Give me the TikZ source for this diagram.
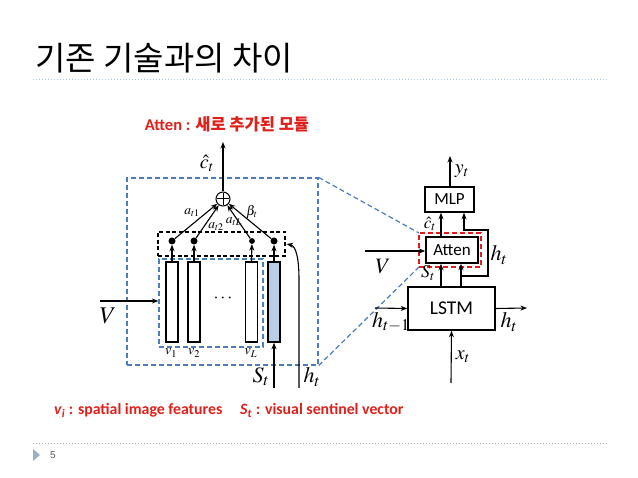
\documentclass[tikz,border=0pt]{standalone}
\usepackage{mathptmx}
\usepackage{fontspec}
\setmainfont{Liberation Serif}
\newfontfamily\krf{Noto Sans CJK KR}
\newfontfamily\carl{Carlito}
\newfontfamily\arialf{Liberation Sans}
\usetikzlibrary{arrows.meta,calc}
\definecolor{bluedash}{HTML}{4A7EBB}
\definecolor{redtxt}{HTML}{E0201B}
\definecolor{redbox}{HTML}{E31A1C}
\definecolor{barblue}{HTML}{B9CDE5}
\definecolor{titleline}{HTML}{A6CBDD}
\definecolor{footline}{HTML}{B4B4B4}
\definecolor{tri}{HTML}{9BB0C4}
\newcommand{\fs}[1]{\fontsize{#1}{#1}\selectfont}
\tikzset{
  arr/.style={-{Stealth[length=6.5pt,width=5pt]}, line width=1.1pt},
  box/.style={draw, line width=1.5pt, inner sep=0pt, font=\carl\fs{17}},
  bdash/.style={draw=bluedash, dash pattern=on 5pt off 3pt, line width=1.2pt},
  bar/.style={draw, line width=1.4pt, minimum width=12, minimum height=80, inner sep=0pt},
  dotn/.style={circle, fill, inner sep=0pt, minimum size=7},
  lbl/.style={inner sep=0pt},
}
\begin{document}
\begin{tikzpicture}[x=1pt,y=-1pt]
\useasboundingbox[fill=white] (0,0) rectangle (638,478);
% title
\node[lbl, anchor=base west] (title) at (35,71) {\krf\fs{33}기존 기술과의 차이};
\draw[titleline, line width=0.8pt, dash pattern=on 1pt off 2pt] (33,79) coordinate (tl1) -- (607,79) coordinate (tl2);
% footer
\draw[footline, line width=0.8pt, dash pattern=on 1pt off 2pt] (33,443) coordinate (fl1) -- (607,443) coordinate (fl2);
\fill[tri] (33,449) coordinate (t1) -- (33,461) coordinate (t2) -- (40,455) coordinate (t3) -- cycle;
\node[lbl, anchor=base west, text=black!65] (pnum) at (50,459) {\arialf\fs{10}5};
% red captions
\node[lbl, text=redtxt] (cap1) at (227,124) {\carl\bfseries\fs{16.5}Atten : {\krf\bfseries 새로 추가된 모듈}};
\node[lbl, anchor=base west, text=redtxt] (cap2) at (54,415) {\carl\bfseries\fs{15.8}\textit{v}\textsubscript{\textit{i}} : spatial image features};
\node[lbl, anchor=base west, text=redtxt] (cap3) at (240,415) {\carl\bfseries\fs{15.8}\textit{S}\textsubscript{\textit{t}} : visual sentinel vector};

% right diagram boxes
\node[box, minimum width=49, minimum height=25] (mlp) at (449.5,199.5) {MLP};
\node[box, minimum width=52, minimum height=26] (att) at (452,250) {Atten};
\node[box, minimum width=87, minimum height=43, font=\carl\fs{19.5}] (lstm) at (451.5,308.5) {LSTM};

% left diagram
\node[bdash, minimum width=191, minimum height=187] (outer) at (222.5,271.5) {};
\node[draw, dash pattern=on 4pt off 2.5pt, line width=1.2pt, minimum width=127, minimum height=24] (blk) at (221.5,244) {};
\node[bdash, minimum width=104, minimum height=88] (inner) at (211,303) {};

% connectors from left frame to Atten
\draw[bdash] (outer.north east) -- (419,233) coordinate (rnw);
\draw[bdash] (outer.south east) -- (419,267) coordinate (rsw);
\node[draw=redbox, dash pattern=on 5pt off 3pt, line width=2.6pt, minimum width=62, minimum height=34] (red) at (450,250) {};

\node[bar] (b1) at (172,302) {};
\node[bar] (b2) at (194,302) {};
\node[bar] (b3) at (251.5,302) {};
\node[bar, fill=barblue] (b4) at (274,302) {};
\node[dotn] (d1) at (172,241) {};
\node[dotn] (d2) at (194,241) {};
\node[dotn, minimum size=5.8] (d3) at (252,241) {};
\node[dotn] (d4) at (274,241) {};
\node[draw, circle, line width=1pt, minimum size=14, inner sep=0pt] (plus) at (223,199) {};
\draw[line width=1pt] ([yshift=-1.5pt]plus.north) -- ([yshift=1.5pt]plus.south);
\draw[line width=1pt] ([xshift=1.5pt]plus.west) -- ([xshift=-1.5pt]plus.east);

\foreach \b/\d in {b1/d1,b2/d2,b3/d3,b4/d4}{
  \draw[arr] (\b.north) -- (\d);
  \draw[arr] (\d) -- (plus);
}
\coordinate (ctop) at (223,142);
\draw[arr] (plus) -- (ctop);
\node[lbl] (chat) at (207,163) {\fs{20}$\hat{c}_t$};
\node[lbl] (a1) at (192,213) {\fs{13.5}$a_{t1}$};
\node[lbl] (a2) at (216,227) {\fs{13.5}$a_{t2}$};
\node[lbl] (aL) at (234,222) {\fs{13.5}$a_{tL}$};
\node[lbl] (bt) at (252,212) {\fs{13.5}$\beta_t$};
\node[lbl] (dots) at (223,299) {\fs{18}$\cdots$};

\coordinate (vin) at (100,301);
\draw[arr] (vin) -- (vin -| inner.west);
\node[lbl] (Vl) at (108,316) {\fs{24}$V$};
\node[lbl] (v1) at (171,353) {\fs{14}$v_1$};
\node[lbl] (v2) at (194,353) {\fs{14}$v_2$};
\node[lbl] (vL) at (251,353) {\fs{14}$v_L$};

\coordinate (sbot) at (274,388);
\draw[arr] (sbot) -- (b4.south);
\node[lbl] (Sl) at (261,377) {\fs{22}$S_t$};
\coordinate (hbot) at (299,388);
\coordinate (hbend) at (299,280);
\draw[arr] (hbot) -- (hbend) .. controls (299,258) and (296,246) .. ([xshift=1pt]blk.east);
\node[lbl] (hl) at (312,377) {\fs{22}$h_t$};

% right diagram connectors
\coordinate (ytop) at (450,156);
\draw[arr] (mlp.north -| ytop) -- (ytop);
\coordinate (cx1) at (441,280);
\coordinate (cx2) at (461,276);
\coordinate (lr) at (488,230);
\coordinate (cx3) at (464,230);
\draw[arr] (lstm.north -| cx1) -- (att.south -| cx1);
\draw[arr] (lstm.north -| cx2) -- (att.south -| cx2);
\draw[arr] (att.north -| cx1) -- (mlp.south -| cx1);
\draw[arr] (cx2) -| (lr) -- (cx3) -- (mlp.south -| cx3);
\coordinate (vr) at (365,251);
\draw[arr] (vr) -- (vr -| att.west);
\coordinate (hin) at (375,308);
\draw[arr] (hin) -- (lstm.west);
\coordinate (hout) at (527,308);
\draw[arr] (lstm.east) -- (hout);
\coordinate (xb) at (451,383);
\draw[arr] (xb) -- (lstm.south);

\node[lbl] (ytl) at (462,171) {\fs{20}$y_t$};
\node[lbl] (crl) at (430,224) {\fs{17}$\hat{c}_t$};
\node[lbl] (Vr) at (383,267) {\fs{22}$V$};
\node[lbl] (Sr) at (428,273) {\fs{18}$S_t$};
\node[lbl] (htr) at (499,255) {\fs{22}$h_t$};
\node[lbl] (htm) at (391,322) {\fs{22}$h_{t-1}$};
\node[lbl] (hto) at (509,322) {\fs{22}$h_t$};
\node[lbl] (xtl) at (463,357) {\fs{20}$x_t$};
\end{tikzpicture}
\end{document}
